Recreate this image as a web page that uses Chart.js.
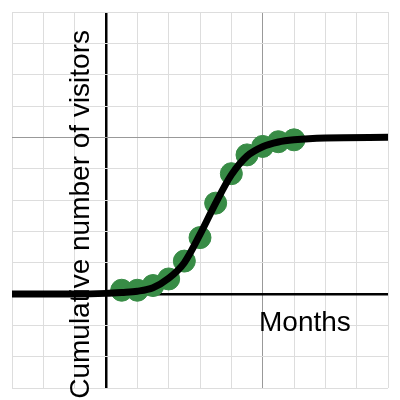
<!DOCTYPE html>
<html>
<head>
<meta charset="utf-8">
<script src="https://cdn.jsdelivr.net/npm/chart.js@4"></script>
<style>
  html, body { margin: 0; padding: 0; background: #fff; }
  #wrap { width: 400px; height: 400px; }
</style>
</head>
<body>
<div id="wrap"><canvas id="chart"></canvas></div>
<script>
// observed visitors (months, cumulative count)
const monthsObs = [0.5, 1, 1.5, 2, 2.5, 3, 3.5, 4, 4.5, 5, 5.5, 6];
const visitorsObs = [0.12, 0.12, 0.27, 0.48, 1.05, 1.8, 2.9, 3.84, 4.44, 4.71, 4.86, 4.92];

// fitted curve
const curveX = [-3, -1, 0, 0.5, 1, 1.5, 2, 2.5, 3, 3.5, 4, 4.5, 5, 5.5, 6, 7, 9];
const curveY = [0, 0, 0.02, 0.05, 0.09, 0.2, 0.5, 1.0, 1.9, 2.9, 3.8, 4.4, 4.7, 4.85, 4.92, 4.98, 5];

const xRange = [-3, 9];
const yRange = [-3, 9];

function gridColor(ctx) {
    const v = ctx.tick ? ctx.tick.value : null;
    if (v === 0) return '#000';
    if (v % 5 === 0) return '#999';
    return '#ddd';
}
function gridWidth(ctx) {
    const v = ctx.tick ? ctx.tick.value : null;
    return v === 0 ? 2.5 : 1;
}

// axis titles drawn like the original (inside the plot)
const labelPlugin = {
    id: 'labels',
    afterDraw(chart) {
        const c = chart.ctx;
        c.save();
        c.fillStyle = '#000';
        c.font = '28px "Liberation Sans", Arial, sans-serif';
        c.textAlign = 'left';
        c.textBaseline = 'alphabetic';
        c.fillText('Months', 259, 331);
        c.translate(89, 30);
        c.rotate(-Math.PI / 2);
        c.textAlign = 'right';
        c.fillText('Cumulative number of visitors', 0, 0);
        c.restore();
    }
};

new Chart(document.getElementById('chart'), {
    type: 'scatter',
    data: {
        datasets: [
            {
                data: curveX.map((x, i) => ({ x: x, y: curveY[i] })),
                showLine: true,
                borderColor: '#000',
                borderWidth: 7,
                pointRadius: 0,
                cubicInterpolationMode: 'monotone',
                order: 0
            },
            {
                data: monthsObs.map((x, i) => ({ x: x, y: visitorsObs[i] })),
                backgroundColor: '#388c46',
                borderColor: '#388c46',
                pointRadius: 11,
                order: 1
            }
        ]
    },
    options: {
        responsive: true,
        maintainAspectRatio: false,
        animation: false,
        layout: { padding: 0 },
        plugins: { legend: { display: false }, tooltip: { enabled: false } },
        scales: {
            x: {
                type: 'linear', min: xRange[0], max: xRange[1],
                ticks: { display: false, stepSize: 1 },
                border: { display: false },
                grid: { color: gridColor, lineWidth: gridWidth, drawTicks: false }
            },
            y: {
                type: 'linear', min: yRange[0], max: yRange[1],
                ticks: { display: false, stepSize: 1 },
                border: { display: false },
                grid: { color: gridColor, lineWidth: gridWidth, drawTicks: false }
            }
        }
    },
    plugins: [labelPlugin]
});
</script>
</body>
</html>
